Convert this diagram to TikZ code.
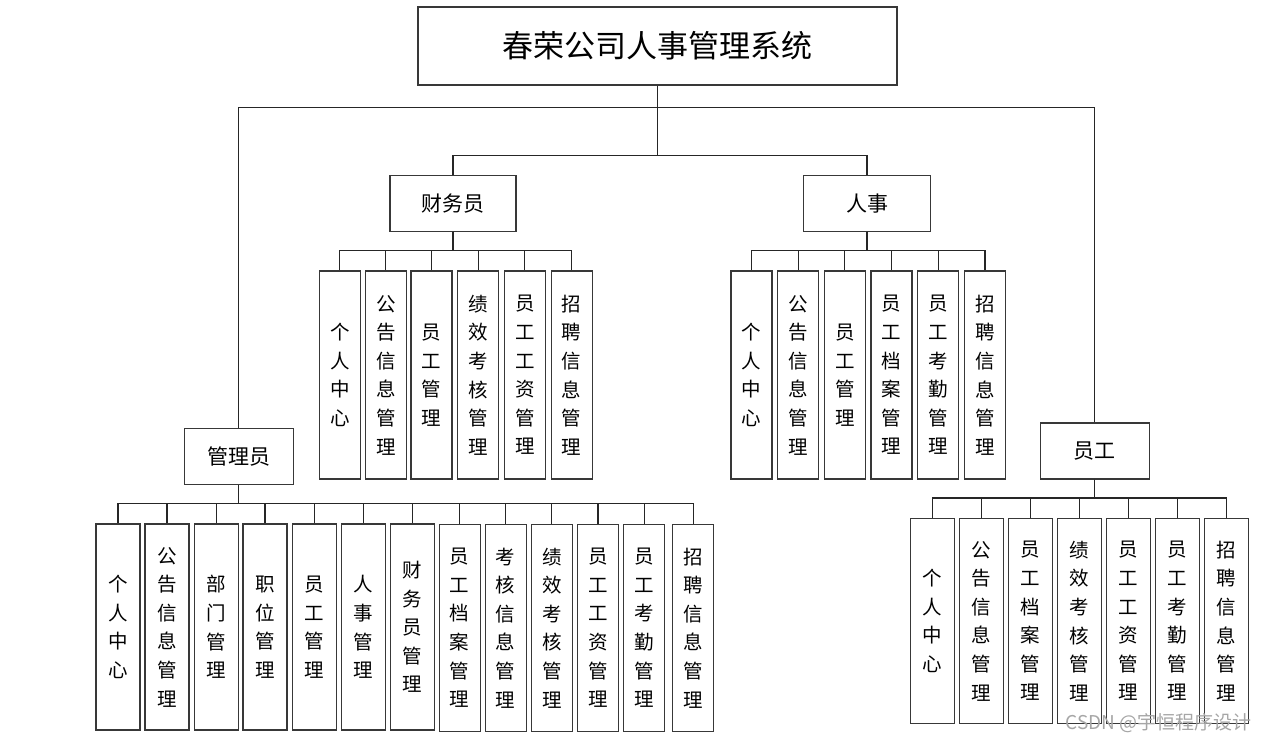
\documentclass[tikz,border=0pt]{standalone}
\usepackage{fontspec}
\newfontfamily\cjk{Noto Sans CJK SC}
\begin{document}
\begin{tikzpicture}[x=1pt,y=-1pt,
  line/.style={draw=black!85,line width=1.3pt},
  box/.style={draw=black!78,line width=1.3pt,fill=white,inner sep=0pt,align=center},
  topbox/.style={box,minimum width=479pt,minimum height=78pt,font=\cjk\fontsize{31}{36}\selectfont},
  rolebox/.style={box,minimum height=56pt,font=\cjk\fontsize{21}{26}\selectfont},
  leaf/.style={box,minimum width=41pt,minimum height=208pt,font=\cjk\fontsize{19.5}{28.6}\selectfont},
  leafw/.style={leaf,minimum width=44pt,minimum height=206pt},
  leafy/.style={leaf,minimum width=44pt,minimum height=205pt}
]
\useasboundingbox (0,0) rectangle (1268,742);
\fill[white] (0,0) rectangle (1268,742);

% top
\node[topbox] (sys) at (657.5,46) {春荣公司人事管理系统};
\node[rolebox,minimum width=126pt] (cw) at (453,203.3) {财务员};
\node[rolebox,minimum width=127pt] (rs) at (867,203.3) {人事};
\node[rolebox,minimum width=109pt] (gly) at (238.7,456.5) {管理员};
\node[rolebox,minimum width=109pt] (yg) at (1094.8,451) {员工};

\draw[line] (sys.south) -- ++(0,22) -| (gly.north);
\draw[line] (sys.south) -- ++(0,22) -| (yg.north);
\draw[line] (sys.south) -- ++(0,70) -| (cw.north);
\draw[line] (sys.south) -- ++(0,70) -| (rs.north);

% 财务员 children
\node[leaf] (c1) at (339.8,375) {个\\人\\中\\心};
\node[leaf] (c2) at (385.8,375) {公\\告\\信\\息\\管\\理};
\node[leaf] (c3) at (431.5,375) {员\\工\\管\\理};
\node[leaf] (c4) at (478.2,375) {绩\\效\\考\\核\\管\\理};
\node[leaf] (c5) at (524.8,375) {员\\工\\工\\资\\管\\理};
\node[leaf] (c6) at (571.7,375) {招\\聘\\信\\息\\管\\理};
\foreach \c in {c1,c2,c3,c4,c5,c6}
  \draw[line] (cw.south) -- ++(0,18.7) -| (\c.north);

% 人事 children
\node[leaf] (r1) at (751.5,375) {个\\人\\中\\心};
\node[leaf] (r2) at (798.2,375) {公\\告\\信\\息\\管\\理};
\node[leaf] (r3) at (844.8,375) {员\\工\\管\\理};
\node[leaf] (r4) at (891.5,375) {员\\工\\档\\案\\管\\理};
\node[leaf] (r5) at (938.2,375) {员\\工\\考\\勤\\管\\理};
\node[leaf] (r6) at (985,375) {招\\聘\\信\\息\\管\\理};
\foreach \c in {r1,r2,r3,r4,r5,r6}
  \draw[line] (rs.south) -- ++(0,18.7) -| (\c.north);

% 管理员 children
\node[leafw] (g1) at (118,627) {个\\人\\中\\心};
\node[leafw] (g2) at (167,627) {公\\告\\信\\息\\管\\理};
\node[leafw] (g3) at (216.2,627) {部\\门\\管\\理};
\node[leafw] (g4) at (265,627) {职\\位\\管\\理};
\node[leafw] (g5) at (314.2,627) {员\\工\\管\\理};
\node[leafw] (g6) at (363.2,627) {人\\事\\管\\理};
\node[leafw] (g7) at (412.2,627) {财\\务\\员\\管\\理};
\node[leaf,minimum height=207pt] (g8) at (459.7,627.8) {员\\工\\档\\案\\管\\理};
\node[leaf,minimum height=207pt] (g9) at (505.7,627.8) {考\\核\\信\\息\\管\\理};
\node[leaf,minimum height=207pt] (g10) at (551.8,627.8) {绩\\效\\考\\核\\管\\理};
\node[leaf,minimum height=207pt] (g11) at (598,627.8) {员\\工\\工\\资\\管\\理};
\node[leaf,minimum height=207pt] (g12) at (644.2,627.8) {员\\工\\考\\勤\\管\\理};
\node[leaf,minimum height=207pt] (g13) at (693.2,627.8) {招\\聘\\信\\息\\管\\理};
\foreach \c in {g1,g2,g3,g4,g5,g6,g7,g8,g9,g10,g11,g12,g13}
  \draw[line] (gly.south) -- ++(0,18.3) -| (\c.north);

% 员工 children
\node[leafy] (y1) at (932.2,621) {个\\人\\中\\心};
\node[leafy] (y2) at (981.2,621) {公\\告\\信\\息\\管\\理};
\node[leafy] (y3) at (1030.2,621) {员\\工\\档\\案\\管\\理};
\node[leafy] (y4) at (1079.2,621) {绩\\效\\考\\核\\管\\理};
\node[leafy] (y5) at (1128.2,621) {员\\工\\工\\资\\管\\理};
\node[leafy] (y6) at (1177.2,621) {员\\工\\考\\勤\\管\\理};
\node[leafy] (y7) at (1226.2,621) {招\\聘\\信\\息\\管\\理};
\foreach \c in {y1,y2,y3,y4,y5,y6,y7}
  \draw[line] (yg.south) -- ++(0,18.4) -| (\c.north);

% watermark
\node[font=\cjk\fontsize{19}{21}\selectfont,text=black!35,anchor=east,inner sep=0pt] (wm) at (1252,723) {CSDN @宇恒程序设计};
\end{tikzpicture}
\end{document}
